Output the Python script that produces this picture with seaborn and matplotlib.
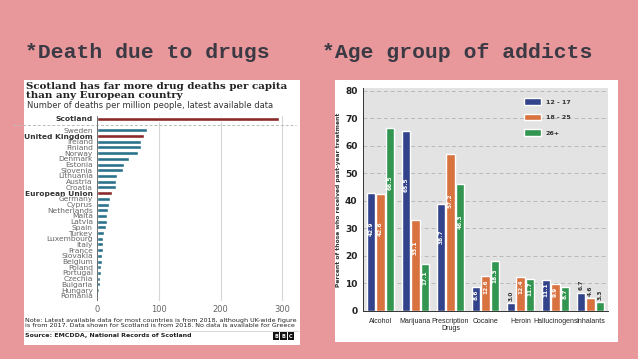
import numpy as np
import pandas as pd
import matplotlib
matplotlib.use('Agg')
import matplotlib.pyplot as plt
from matplotlib.patches import Rectangle
import seaborn as sns

# ==================================
# DATA

# left chart: drug deaths per million people
countries = ['Scotland', 'Sweden', 'United Kingdom', 'Ireland', 'Finland', 'Norway', 'Denmark',
             'Estonia', 'Slovenia', 'Lithuania', 'Austria', 'Croatia', 'European Union', 'Germany',
             'Cyprus', 'Netherlands', 'Malta', 'Latvia', 'Spain', 'Turkey', 'Luxembourg', 'Italy',
             'France', 'Slovakia', 'Belgium', 'Poland', 'Portugal', 'Czechia', 'Bulgaria',
             'Hungary', 'Romania']
deaths = [295, 81, 76, 72, 72, 66, 52, 43, 41.5, 32, 31, 30, 24, 20.5, 20, 18, 16, 16, 14, 12,
          10, 9, 9, 8, 7.5, 7, 6, 5.4, 5, 4, 1]
highlight = ['Scotland', 'United Kingdom', 'European Union']
death_ticks = [0, 100, 200, 300]

# right chart: percent of those who received past-year treatment, by age group
drugs = ['Alcohol', 'Marijuana', 'Prescription\nDrugs', 'Cocaine', 'Heroin', 'Hallucinogens', 'Inhalants']
age_groups = ['12 - 17', '18 - 25', '26+']
pct_12_17 = [42.9, 65.5, 38.7, 8.6, 3.0, 11.1, 6.7]
pct_18_25 = [42.6, 33.1, 57.2, 12.6, 12.4, 9.9, 4.6]
pct_26_up = [66.5, 17.1, 46.3, 18.3, 11.7, 8.7, 3.3]
pct_ticks = list(range(0, 81, 10))

# ==================================
# STYLE
sns.set_theme(style='white')
plt.rcParams['font.family'] = ['DejaVu Sans']
narrow = ['Liberation Sans Narrow', 'Liberation Sans', 'DejaVu Sans']

slide_bg = '#e8989a'
red = '#9a1a1a'
teal = '#1b7a9b'
age_colors = ['#23399a', '#f26a25', '#22a54a']

fig = plt.figure(figsize=(6.38, 3.59), dpi=100)
fig.patch.set_facecolor(slide_bg)

W, H = 638, 359
def fx(px):
    return px / W
def fy(py):
    return 1 - py / H

# slide headings
fig.text(fx(25), fy(52), '*Death due to drugs', family='Liberation Mono', weight='bold',
         fontsize=15.4, color='#3b3a44', va='center', ha='left')
fig.text(fx(322), fy(52), '*Age group of addicts', family='Liberation Mono', weight='bold',
         fontsize=15.4, color='#3b3a44', va='center', ha='left')

# white panels
fig.add_artist(Rectangle((fx(24), fy(345)), fx(300 - 24), (345 - 80) / H,
                         transform=fig.transFigure, facecolor='white', edgecolor='none', zorder=0))
fig.add_artist(Rectangle((fx(335), fy(342)), fx(618 - 335), (342 - 80) / H,
                         transform=fig.transFigure, facecolor='white', edgecolor='none', zorder=0))

# ==================================
# LEFT: horizontal bar chart
spacer = ' '
order = [countries[0], spacer] + countries[1:]
deaths_df = pd.DataFrame({'country': countries + [spacer],
                          'deaths': deaths + [0],
                          'group': ['hi' if c in highlight else 'other' for c in countries] + ['other']})

axL = fig.add_axes([fx(97), fy(300.9), fx(296 - 97), (300.9 - 116.1) / H])
axL.set_facecolor('none')
sns.barplot(data=deaths_df, x='deaths', y='country', hue='group', order=order,
            palette={'hi': red, 'other': teal}, dodge=False, width=0.7,
            legend=False, ax=axL, zorder=3)
axL.set_xlim(0, 322)
axL.set_ylim(len(order) - 0.5 + 0.4, -0.5)
axL.set_xlabel('')
axL.set_ylabel('')
axL.set_xticks(death_ticks)
axL.set_xticklabels([str(t) for t in death_ticks], fontsize=6, color='#666666')
axL.tick_params(axis='x', length=0, pad=3)
axL.tick_params(axis='y', length=0, pad=3)
axL.set_yticks(range(len(order)))
axL.set_yticklabels(order, fontsize=5.4)
for lbl in axL.get_yticklabels():
    if lbl.get_text() in highlight:
        lbl.set_fontweight('bold')
        lbl.set_color('#333333')
    else:
        lbl.set_color('#666666')
for t in death_ticks[1:]:
    axL.axvline(t, color='#d6d6d6', lw=0.8, zorder=1)
axL.axvline(0, color='#555555', lw=0.6, zorder=4)
axL.plot([-0.42, 1.0], [1, 1], transform=axL.get_yaxis_transform(), color='#bbbbbb',
         lw=0.7, ls=(0, (3, 2)), clip_on=False, zorder=2)
sns.despine(ax=axL, left=True, bottom=True)

fig.text(fx(26), fy(91), 'Scotland has far more drug deaths per capita\nthan any European country',
         family='DejaVu Serif', weight='bold', fontsize=7.4, color='#222222',
         va='center', ha='left', linespacing=0.95)
fig.text(fx(27), fy(106), 'Number of deaths per million people, latest available data',
         fontsize=6.0, color='#333333', va='center', ha='left')
fig.text(fx(25), fy(323), 'Note: Latest available data for most countries is from 2018, although UK-wide figure\n'
         'is from 2017. Data shown for Scotland is from 2018. No data is available for Greece',
         fontsize=4.6, color='#222222', va='center', ha='left', linespacing=1.0)
fig.add_artist(plt.Line2D([fx(25), fx(298)], [fy(331), fy(331)], transform=fig.transFigure,
                          color='#cccccc', lw=0.5))
fig.text(fx(25), fy(336), 'Source: EMCDDA, National Records of Scotland', weight='bold',
         fontsize=4.5, color='#222222', va='center', ha='left')
for i, letter in enumerate('BBC'):
    fig.text(fx(276 + i * 7.5), fy(336), letter, weight='bold', fontsize=3.6, color='white',
             va='center', ha='center',
             bbox=dict(boxstyle='square,pad=0.25', facecolor='#111111', edgecolor='none'))

# ==================================
# RIGHT: grouped bar chart
age_df = pd.DataFrame({'drug': drugs * 3,
                       'age': [age_groups[0]] * 7 + [age_groups[1]] * 7 + [age_groups[2]] * 7,
                       'pct': pct_12_17 + pct_18_25 + pct_26_up})

axR = fig.add_axes([fx(363), fy(311), fx(608 - 363), (311 - 88) / H])
axR.set_facecolor('#e3e3e3')
sns.barplot(data=age_df, x='drug', y='pct', hue='age', order=drugs, hue_order=age_groups,
            palette=age_colors, width=0.8, gap=0.1, ax=axR, zorder=3)
axR.set_ylim(0, 81)
axR.set_xlim(-0.5, 6.45)
axR.set_yticks(pct_ticks)
axR.set_yticklabels([str(t) for t in pct_ticks], fontsize=6.5, fontweight='bold', color='#222222')
axR.set_xticks(range(len(drugs)))
axR.set_xticklabels(drugs, fontsize=5.0, color='#222222', linespacing=1.0, family=narrow)
axR.set_xticks(np.arange(-0.5, len(drugs), 1), minor=True)
axR.tick_params(axis='x', which='major', length=0, pad=5)
axR.tick_params(axis='x', which='minor', length=2.5, width=0.6, color='#333333', direction='in')
axR.tick_params(axis='y', length=2, width=0.6, color='#333333', pad=2)
axR.set_xlabel('')
axR.set_ylabel('Percent of those who received past-year treatment', fontsize=4.3,
               fontweight='bold', color='#333333', labelpad=3)
for t in pct_ticks[1:]:
    axR.axhline(t, color='#b8b8b8', lw=0.7, ls=(0, (4, 3)), zorder=1)
for s in ['top', 'right']:
    axR.spines[s].set_visible(False)
for s in ['left', 'bottom']:
    axR.spines[s].set_color('#333333')
    axR.spines[s].set_linewidth(0.7)

# value labels
for cont in axR.containers:
    for bar in cont:
        v = bar.get_height()
        xc = bar.get_x() + bar.get_width() / 2
        if v >= 8:
            axR.text(xc, v * 0.7, f'{v:.1f}', rotation=90, ha='center', va='center',
                     fontsize=4.2, color='white', fontweight='bold', zorder=4)
        else:
            axR.text(xc, v + 0.8, f'{v:.1f}', rotation=90, ha='center', va='bottom',
                     fontsize=4.2, color='#333333', fontweight='bold', zorder=4)

leg = axR.legend(loc='upper right', bbox_to_anchor=(0.87, 0.98), frameon=False, fontsize=4.6,
                 handlelength=2.6, handleheight=1.2, labelspacing=1.4, handletextpad=0.8)
for txt in leg.get_texts():
    txt.set_fontweight('bold')
    txt.set_color('#333333')

fig.savefig('out.png', dpi=100, facecolor=slide_bg)
